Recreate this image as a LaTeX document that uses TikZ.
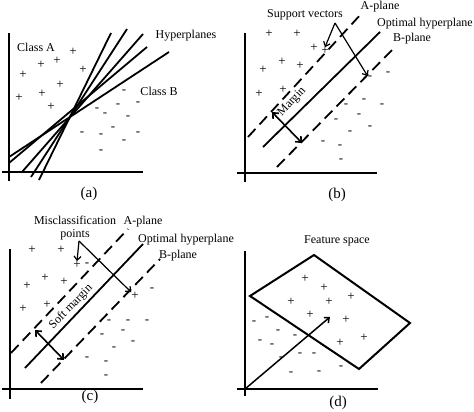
\documentclass[tikz,border=0pt]{standalone}
\usepackage{fontspec}
\setmainfont{Liberation Serif}
\usetikzlibrary{arrows.meta}
\begin{document}
\begin{tikzpicture}[x=1pt,y=-1pt,
  axis/.style={line width=2pt},
  hp/.style={line width=1.8pt},
  dplane/.style={line width=1.8pt,dash pattern=on 11pt off 6pt},
  lbl/.style={font=\fontsize{12}{13.5}\selectfont,inner sep=0pt},
  panelcap/.style={font=\fontsize{15}{17}\selectfont,inner sep=0pt},
  pm/.style={font=\fontsize{13}{14}\selectfont,inner sep=0pt},
  arr/.style={line width=1.2pt,-{Straight Barb[length=4pt,width=7pt]}},
  darr/.style={line width=1.6pt,{Straight Barb[length=4.5pt,width=8pt]}-{Straight Barb[length=4.5pt,width=8pt]}}]
\useasboundingbox (0,0) rectangle (474,412);

% ---------------- (a) ----------------
\draw[axis] (9,33) -- (9,181);
\draw[axis] (2,172) -- (143,172);
\draw[hp] (111,33) -- (39,180);
\draw[hp] (127,29) -- (31,177);
\draw[hp] (143,34) -- (22,172);
\draw[hp] (147,47) -- (9,163);
\draw[hp] (169,52) -- (9,157);
\foreach \p [count=\i] in {(73,52),(41,65),(57,61),(83,70),(23,75),(60,85),(19,98),(42,94),(51,107)}
  \node[pm] (pa\i) at \p {+};
\foreach \p [count=\i] in {(124,92),(97,110),(118,106),(138,104),(105,115),(128,118),(113,129),(82,134),(101,136),(138,134),(124,142),(101,152)}
  \node[pm] (ma\i) at \p {-};
\node[lbl] (classA) at (36,47) {Class A};
\node[lbl] (hyper) at (186,36) {Hyperplanes};
\node[lbl] (classB) at (159,91) {Class B};
\node[panelcap] (capa) at (89,194) {(a)};

% ---------------- (b) ----------------
\draw[axis] (245,33) -- (245,182);
\draw[axis] (237,173) -- (377,173);
\draw[dplane] (248,137) -- (362,13);
\draw[hp] (263,147) -- (380,32);
\draw[dplane] (277,167) -- (394,48);
\foreach \p [count=\i] in {(269,34),(297,34),(314,48),(325,51),(282,62),(300,66),(263,70),(259,94),(283,90)}
  \node[pm] (pb\i) at \p {+};
\foreach \p [count=\i] in {(370,78),(388,74),(346,106),(364,101),(382,106),(359,116),(336,121),(370,128),(350,133),(323,143),(340,147),(341,161)}
  \node[pm] (mb\i) at \p {-};
\node[lbl] (supp) at (305,15) {Support vectors};
\node[lbl] (aplb) at (380,7) {A-plane};
\node[lbl,anchor=east] (optb) at (473,24) {Optimal hyperplane};
\node[lbl] (bplb) at (412,39) {B-plane};
\node[lbl,rotate=47] (margin) at (292,102) {Margin};
\node[panelcap] (capb) at (337,195) {(b)};
\coordinate (sv) at (335,23);
\draw[arr] (sv) -- (pb4.north);
\draw[arr] (sv) -- (mb1.north west);
\coordinate (mb0) at (272,112);
\coordinate (mb9) at (302,143);
\draw[darr] (mb0) -- (mb9);

% ---------------- (c) ----------------
\draw[axis] (10,249) -- (10,399);
\draw[axis] (2,389) -- (143,389);
\draw[dplane] (11,353) -- (128,229);
\draw[hp] (25,368) -- (143,244);
\draw[dplane] (41,383) -- (160,259);
\foreach \p [count=\i] in {(32,250),(61,250),(77,265),(45,278),(64,282),(27,286),(23,309),(47,305),(135,296)}
  \node[pm] (pc\i) at \p {+};
\foreach \p [count=\i] in {(87,265),(152,290),(109,322),(128,322),(147,322),(123,332),(102,336),(133,343),(114,349),(87,359),(106,363),(106,377)}
  \node[pm] (mc\i) at \p {-};
\node[lbl,align=center] (miscl) at (75,228) {Misclassification\\points};
\node[lbl] (aplc) at (143,222) {A-plane};
\node[lbl] (optc) at (186,240) {Optimal hyperplane};
\node[lbl] (bplc) at (178,256) {B-plane};
\node[lbl,rotate=46] (soft) at (71,307) {Soft margin};
\node[panelcap] (capc) at (90,397) {(c)};
\coordinate (mp) at (79,241);
\draw[arr] (mp) -- (pc3.north);
\draw[arr] (mp) -- (pc9.north west);
\coordinate (sm0) at (35,330);
\coordinate (sm1) at (64,360);
\draw[darr] (sm0) -- (sm1);

% ---------------- (d) ----------------
\draw[axis] (245,251) -- (245,396);
\draw[axis] (237,389) -- (378,389);
\draw[line width=2pt,line join=miter] (314,255) -- (410,323) -- (359,369) -- (250,296) -- cycle;
\foreach \p [count=\i] in {(305,279),(324,288),(291,302),(329,302),(351,297),(310,315),(346,320),(364,338),(340,343)}
  \node[pm] (pd\i) at \p {+};
\foreach \p [count=\i] in {(254,323),(267,319),(278,332),(295,337),(260,342),(272,346),(281,359),(300,355),(314,355),(291,374),(319,373),(341,368)}
  \node[pm] (md\i) at \p {-};
\node[lbl] (feat) at (337,241) {Feature space};
\node[panelcap] (capd) at (338,403) {(d)};
\coordinate (orig) at (245,389);
\coordinate (tip) at (330,317);
\draw[arr,line width=1.5pt] (orig) -- (tip);
\end{tikzpicture}
\end{document}
